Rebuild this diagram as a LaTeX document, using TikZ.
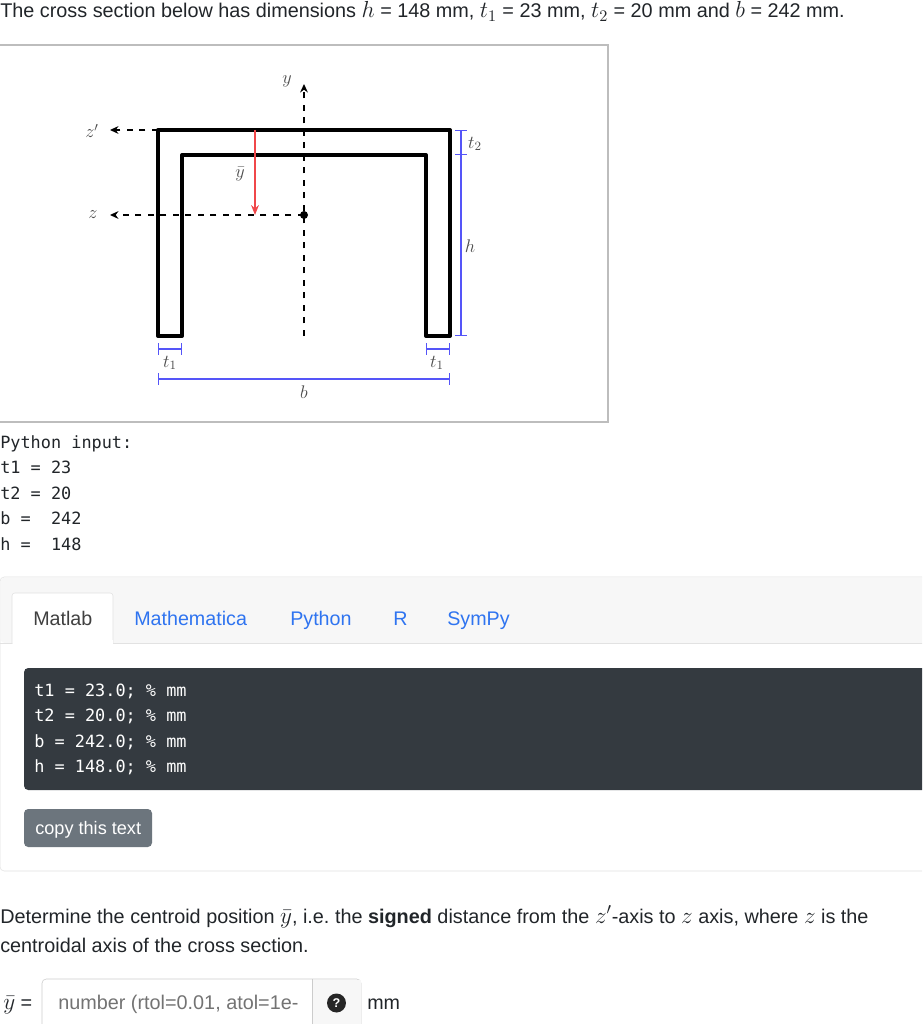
\documentclass[tikz,border=0pt]{standalone}
\usepackage{fix-cm}
\usepackage{fontspec}
\usepackage{amsmath}
\setmainfont{Liberation Sans}
\setmonofont{DejaVu Sans Mono}
\DeclareMathSizes{13}{13}{9}{7}
\DeclareMathSizes{14.1}{16.5}{11.5}{9}
\usetikzlibrary{arrows.meta, positioning}
\definecolor{bodytext}{HTML}{212529}
\definecolor{linkblue}{HTML}{2F74F0}
\definecolor{codebg}{HTML}{343A40}
\definecolor{btngray}{HTML}{6C757D}
\definecolor{framegray}{HTML}{BDBDBD}
\definecolor{cardline}{HTML}{E2E2E2}
\definecolor{cardhead}{HTML}{F7F7F7}
\definecolor{dimblue}{HTML}{5555F8}
\definecolor{ybarred}{HTML}{F0474A}
\tikzset{
    txt/.style={inner sep=0pt, anchor=base west, text=bodytext, font=\frenchspacing\fontsize{14.1}{16}\selectfont},
    mono/.style={inner sep=0pt, anchor=base west, text=bodytext, font=\ttfamily\fontsize{12}{14}\selectfont},
    tab/.style={inner sep=0pt, anchor=base west, text=linkblue, font=\fontsize{14}{16}\selectfont},
    lbl/.style={inner sep=0pt, text=black!70, font=\fontsize{13}{15}\selectfont},
    section/.style={line width=2.9pt, line join=round},
    axis/.style={line width=1.1pt, dash pattern=on 4.4pt off 4.5pt, -{Stealth[length=6pt,width=5.5pt]}},
    dim/.style={draw=dimblue, line width=0.75pt},
    bars/.style={{Bar[width=8pt]}-{Bar[width=8pt]}},
}
\begin{document}
\begin{tikzpicture}[x=0.25mm, y=-0.25mm]
    \useasboundingbox (0,0) rectangle (922,1024);
    \clip (0,0) rectangle (922,1024);
    \fill[white] (0,0) rectangle (922,1024);

    \node[txt] (intro) at (0,18) {The cross section below has dimensions $h$ = 148 mm, $t_1$ = 23 mm, $t_2$ = 20 mm and $b$ = 242 mm.};

    % figure
    \draw[framegray, line width=0.75pt] (-5,45) rectangle (608,422);
    \draw[section] (158,336) -- (158,130) -- (450,130) -- (450,336) -- (426,336) -- (426,155) -- (182,155) -- (182,336) -- cycle;

    \coordinate (ybot) at (304,336);
    \coordinate (ytop) at (304,84);
    \coordinate (zpt) at (110,130);
    \coordinate (cpt) at (304,215);
    \coordinate (zend) at (110,215);
    \coordinate (ztop) at (158,130);
    \coordinate (ybar) at (255,130);
    \coordinate (ybarend) at (255,215);
    \draw[axis] (ybot) -- (ytop);
    \draw[axis] (ztop) -- (zpt);
    \draw[axis] (cpt) -- (zend);
    \fill (cpt) circle (4);
    \draw[ybarred, line width=1.1pt, -{Stealth[length=7pt,width=5.5pt]}] (ybar) -- (ybarend);

    \node[lbl] (ylab) at (287,81) {$y$};
    \node[lbl] (zplab) at (92,131) {$z'$};
    \node[lbl] (zlab) at (93,215) {$z$};
    \node[lbl] (yblab) at (240,174) {$\bar{y}$};

    \draw[dim, bars] (158,349) -- (182,349);
    \draw[dim, bars] (426,349) -- (450,349);
    \draw[dim, bars] (158,379) -- (450,379);
    \draw[dim, bars] (461,130) -- (461,155);
    \draw[dim, -{Bar[width=8pt]}] (461,155) -- (461,336);
    \node[lbl] (t1a) at (170,363) {$t_1$};
    \node[lbl] (t1b) at (437,363) {$t_1$};
    \node[lbl] (blab) at (304,392) {$b$};
    \node[lbl] (t2lab) at (475,144) {$t_2$};
    \node[lbl] (hlab) at (470,246) {$h$};

    % python input
    \node[mono] (py0) at (0,448) {Python input:};
    \node[mono] (py1) at (0,473) {t1 = 23};
    \node[mono] (py2) at (0,499) {t2 = 20};
    \node[mono] (py3) at (0,524) {b =\ \ 242};
    \node[mono] (py4) at (0,550) {h =\ \ 148};

    % card
    \draw[cardline, fill=white, rounded corners=3] (0,577) rectangle (940,871);
    \fill[cardhead, rounded corners=3] (0.5,577.5) rectangle (939,643);
    \draw[cardline] (0,643) -- (940,643);
    \draw[cardline, fill=white, rounded corners=2] (12,643.5) -- (12,593) -- (113,593) -- (113,643.5);
    \fill[white] (12.5,640) rectangle (112.5,644);
    \node[tab, text=black!75] (tmat) at (33,625) {Matlab};
    \node[tab] (tmath) at (134,625) {Mathematica};
    \node[tab] (tpy) at (290,625) {Python};
    \node[tab] (tr) at (393,625) {R};
    \node[tab] (tsym) at (447,625) {SymPy};

    \fill[codebg, rounded corners=3] (24,668) rectangle (940,790);
    \node[mono, text=white] (c1) at (34,696) {t1 = 23.0; \% mm};
    \node[mono, text=white] (c2) at (34,721) {t2 = 20.0; \% mm};
    \node[mono, text=white] (c3) at (34,747) {b = 242.0; \% mm};
    \node[mono, text=white] (c4) at (34,772) {h = 148.0; \% mm};

    \fill[btngray, rounded corners=3] (24,809) rectangle (152,847);
    \node[txt, text=white, font=\fontsize{12.9}{14}\selectfont] (btn) at (35,834) {copy this text};

    % question
    \node[txt] (q1) at (0,923) {Determine the centroid position $\bar{y}$, i.e. the \textbf{signed} distance from the $z'$-axis to $z$ axis, where $z$ is the};
    \node[txt] (q2) at (0,952) {centroidal axis of the cross section.};

    \node[txt] (yeq) at (3,1009) {$\bar{y}$ =};
    \draw[black!20, fill=white, rounded corners=3] (42,979) rectangle (361,1040);
    \fill[cardhead] (312,980) rectangle (360.5,1024);
    \draw[black!20] (312,979) -- (312,1040);
    \node[txt, text=black!55] (ans) at (58,1009) {number (rtol=0.01, atol=1e-};
    \node[circle, fill=black!85, minimum size=13.5pt, inner sep=0pt, text=white, font=\bfseries\fontsize{9}{10}\selectfont] (help) at (336.5,1003) {?};
    \node[txt, font=\fontsize{14}{16}\selectfont] (unit) at (367,1009) {mm};
\end{tikzpicture}
\end{document}
